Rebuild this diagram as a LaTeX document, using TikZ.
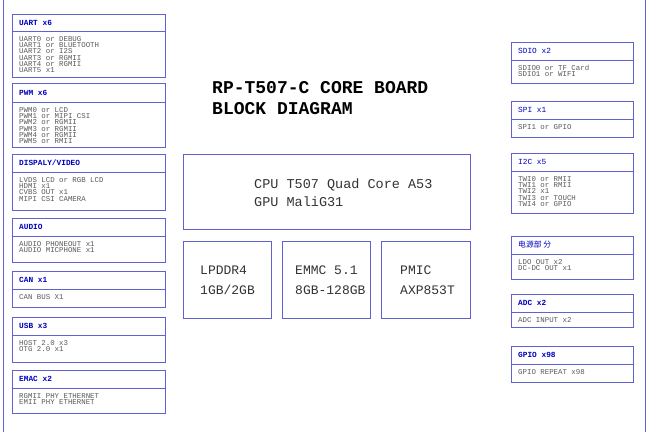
\documentclass[tikz,border=0pt]{standalone}
\usepackage{fontspec}
\setmonofont{Liberation Mono}
\newfontfamily\cjk{Noto Sans CJK SC}
\begin{document}
\begin{tikzpicture}[x=1pt,y=-1pt,
  frame/.style={draw=blue!55!gray!80, line width=0.6pt},
  hdr/.style={anchor=west, font=\ttfamily\bfseries\fontsize{7.8}{6}\selectfont, text=blue!75!black, inner sep=0pt},
  body/.style={anchor=north west, align=left, font=\ttfamily\fontsize{7.4}{6.3}\selectfont, text=black!65, inner sep=0pt},
  big/.style={anchor=west, font=\ttfamily\fontsize{13.5}{18}\selectfont, text=black!80, inner sep=0pt, align=left}]
\useasboundingbox (0,0) rectangle (649,432);
\fill[white] (0,0) rectangle (649,432);
\draw[frame] (3,0) -- (3,432);
\draw[frame] (645,0) -- (645,432);
\def\blk#1#2#3#4#5#6#7#8{%
  \draw[frame] (#2,#4) rectangle (#3,#6);
  \draw[frame] (#2,#5) -- (#3,#5);
  \node[hdr] (#1h) at (#2+7,{(#4+#5)/2}) {#7};
  \node[body] (#1b) at (#2+7,#5+5) {#8};}
\blk{uart}{12}{165}{14}{31}{77}{UART x6}{UART0 or DEBUG\\UART1 or BLUETOOTH\\UART2 or I2S\\UART3 or RGMII\\UART4 or RGMII\\UART5 x1}
\blk{pwm}{12}{165}{83}{102}{147}{PWM x6}{PWM0 or LCD\\PWM1 or MIPI CSI\\PWM2 or RGMII\\PWM3 or RGMII\\PWM4 or RGMII\\PWM5 or RMII}
\blk{disp}{12}{165}{154}{172}{210}{DISPALY/VIDEO}{LVDS LCD or RGB LCD\\HDMI x1\\CVBS OUT x1\\MIPI CSI CAMERA}
\blk{audio}{12}{165}{218}{236}{262}{AUDIO}{AUDIO PHONEOUT x1\\AUDIO MICPHONE x1}
\blk{can}{12}{165}{271}{289}{307}{CAN x1}{CAN BUS X1}
\blk{usb}{12}{165}{317}{335}{362}{USB x3}{HOST 2.0 x3\\OTG 2.0 x1}
\blk{emac}{12}{165}{370}{388}{413}{EMAC x2}{RGMII PHY ETHERNET\\EMII PHY ETHERNET}
\blk{sdio}{511}{633}{42}{60}{83}{\mdseries SDIO x2}{SDIO0 or TF Card\\SDIO1 or WIFI}
\blk{spi}{511}{633}{101}{119}{137}{\mdseries SPI x1}{SPI1 or GPIO}
\blk{i2c}{511}{633}{153}{171}{213}{\mdseries I2C x5}{TWI0 or RMII\\TWI1 or RMII\\TWI2 x1\\TWI3 or TOUCH\\TWI4 or GPIO}
\blk{pwr}{511}{633}{236}{254}{279}{\mdseries\cjk 电源部\ 分}{LDO OUT x2\\DC-DC OUT x1}
\blk{adc}{511}{633}{294}{312}{327}{ADC x2}{ADC INPUT x2}
\blk{gpio}{511}{633}{346}{364}{382}{GPIO x98}{GPIO REPEAT x98}
\node[big, font=\ttfamily\bfseries\fontsize{18}{21}\selectfont, text=black, anchor=west] (title) at (212,98.5) {RP-T507-C CORE BOARD\\BLOCK DIAGRAM};
\draw[frame] (183,154) rectangle (470,229);
\node[big] (cpu) at (254,192.5) {CPU T507 Quad Core A53\\GPU MaliG31};
\draw[frame] (183,241) rectangle (271,318);
\draw[frame] (282,241) rectangle (370,318);
\draw[frame] (381,241) rectangle (470,318);
\node[big, font=\ttfamily\fontsize{13}{20}\selectfont] (ddr) at (200,280) {LPDDR4\\1GB/2GB};
\node[big, font=\ttfamily\fontsize{13}{20}\selectfont] (emmc) at (295,280) {EMMC 5.1\\8GB-128GB};
\node[big, font=\ttfamily\fontsize{13}{20}\selectfont] (pmic) at (400,280) {PMIC\\AXP853T};
\end{tikzpicture}
\end{document}
